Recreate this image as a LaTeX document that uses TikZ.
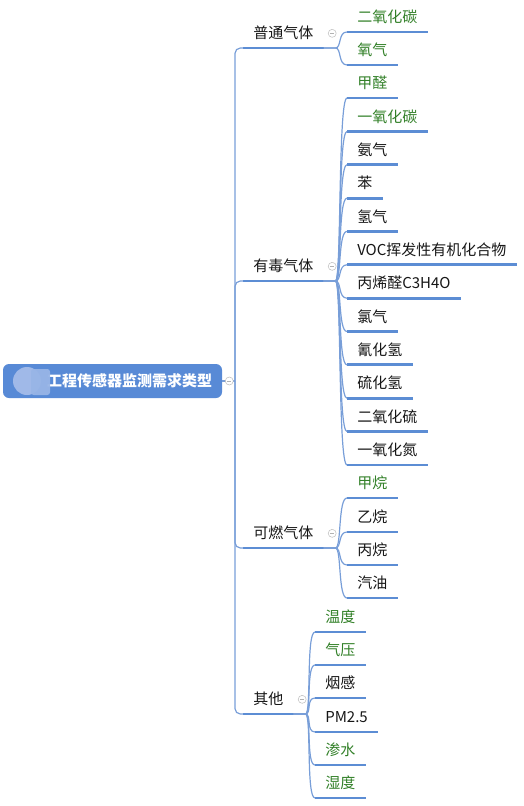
\documentclass[tikz,border=0pt]{standalone}
\usepackage{fontspec}
\setmainfont{Noto Sans CJK SC}

\definecolor{rootblue}{RGB}{88,138,214}
\definecolor{lineblue}{RGB}{92,141,212}
\definecolor{linkblue}{RGB}{120,158,216}
\definecolor{blobblue}{RGB}{164,188,233}
\definecolor{leafgreen}{RGB}{50,128,40}
\definecolor{inkgray}{RGB}{22,22,22}

\tikzset{
  topic/.style={anchor=south west, inner xsep=7.5pt, inner ysep=0pt,
    minimum height=19.5pt, text height=0.8em, text depth=0.2em,
    font=\fontsize{11.25pt}{13pt}\selectfont, text=inkgray,
    append after command={(\tikzlastnode.south west) edge[uline] (\tikzlastnode.south east)}},
  hl/.style={text=leafgreen},
  uline/.style={draw=lineblue, line width=2.2pt},
  link/.style={draw=linkblue, line width=0.9pt},
  rootbox/.style={fill=rootblue, text=white, rounded corners=4.5pt,
    minimum width=164.25pt, minimum height=25.5pt, inner xsep=7.5pt,
    text width=149.25pt, align=right,
    font=\fontsize{11.25pt}{13pt}\selectfont\bfseries},
  fold/.style={circle, draw=gray!50, fill=white, line width=0.4pt,
    minimum size=6pt, inner sep=0pt,
    path picture={\draw[gray!60, line width=0.4pt]
      ([xshift=-1.6pt]path picture bounding box.center) --
      ([xshift=1.6pt]path picture bounding box.center);}},
}

\begin{document}
\begin{tikzpicture}[x=0.75pt, y=-0.75pt]
  \useasboundingbox (0,0) rectangle (524,806);

  \node[rootbox] (root) at (112.5,381) {工程传感器监测需求类型};
  \fill[blobblue, opacity=0.95] (27,381) circle (10.5pt);
  \fill[blobblue!85!rootblue, opacity=0.95, rounded corners=2pt] (31,369) rectangle (50,395);

  \coordinate (hub) at (235,381);
  \node[topic] (common) at (243,48) {普通气体};
  \node[topic] (toxic) at (243,281) {有毒气体};
  \node[topic] (fuel) at (243,548) {可燃气体};
  \node[topic] (other) at (243,714) {其他};

  \node[topic, hl] (co2) at (347,32) {二氧化碳};
  \node[topic, hl] (oxy) at (347,65) {氧气};

  \node[topic, hl] (hcho) at (347,98) {甲醛};
  \node[topic, hl] (co) at (347,131.4) {一氧化碳};
  \node[topic] (nh3) at (347,164.7) {氨气};
  \node[topic] (benz) at (347,198.1) {苯};
  \node[topic] (hyd) at (347,231.4) {氢气};
  \node[topic] (voc) at (347,264.8) {VOC挥发性有机化合物};
  \node[topic] (acro) at (347,298.2) {丙烯醛C3H4O};
  \node[topic] (chl) at (347,331.5) {氯气};
  \node[topic] (hcn) at (347,364.9) {氰化氢};
  \node[topic] (hts) at (347,398.2) {硫化氢};
  \node[topic] (so2) at (347,431.6) {二氧化硫};
  \node[topic] (no) at (347,465) {一氧化氮};

  \node[topic, hl] (ch4) at (347,498) {甲烷};
  \node[topic] (c2h6) at (347,532) {乙烷};
  \node[topic] (c3h8) at (347,565) {丙烷};
  \node[topic] (petrol) at (347,598) {汽油};

  \node[topic, hl] (temp) at (315,632) {温度};
  \node[topic, hl] (press) at (315,665) {气压};
  \node[topic] (smoke) at (315,698) {烟感};
  \node[topic] (pm) at (315,732) {PM2.5};
  \node[topic, hl] (seep) at (315,765) {渗水};
  \node[topic, hl] (humid) at (315,798) {湿度};

  \draw[link] (root.east) -- (hub);
  \foreach \t in {common, toxic, fuel, other}
    \draw[link, rounded corners=4pt] (hub) |- (\t.south west);

  \foreach \c in {co2, oxy}
    \draw[link] (common.south east) -- ++(12,0) .. controls +(6,0) and +(-9,0) .. (\c.south west);
  \foreach \c in {hcho, co, nh3, benz, hyd, voc, acro, chl, hcn, hts, so2, no}
    \draw[link] (toxic.south east) -- ++(12,0) .. controls +(6,0) and +(-9,0) .. (\c.south west);
  \foreach \c in {ch4, c2h6, c3h8, petrol}
    \draw[link] (fuel.south east) -- ++(12,0) .. controls +(6,0) and +(-9,0) .. (\c.south west);
  \foreach \c in {temp, press, smoke, pm, seep, humid}
    \draw[link] (other.south east) -- ++(12,0) .. controls +(6,0) and +(-9,0) .. (\c.south west);

  \node[fold] (rootfold) at ([xshift=5.25pt]root.east) {};
  \node[fold] (commonfold) at ([xshift=6.5pt, yshift=11pt]common.south east) {};
  \node[fold] (toxicfold) at ([xshift=6.5pt, yshift=11pt]toxic.south east) {};
  \node[fold] (fuelfold) at ([xshift=6.5pt, yshift=11pt]fuel.south east) {};
  \node[fold] (otherfold) at ([xshift=6.5pt, yshift=11pt]other.south east) {};

\end{tikzpicture}
\end{document}
